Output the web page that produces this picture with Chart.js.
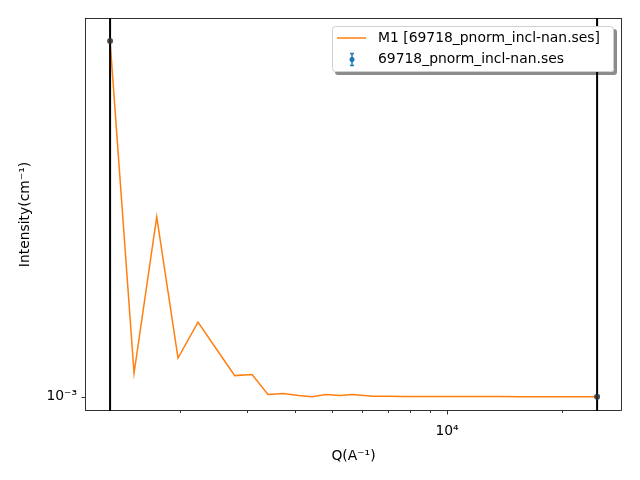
<!DOCTYPE html>
<html>
<head>
<meta charset="utf-8">
<script src="https://cdn.jsdelivr.net/npm/chart.js@4/dist/chart.umd.min.js"></script>
<style>
  html, body { margin: 0; padding: 0; background: #fff; }
  #wrap { width: 640px; height: 480px; }
</style>
</head>
<body>
<div id="wrap"><canvas id="sasChart" width="640" height="480"></canvas></div>
<script>
// Model curve M1, Q (1/A) vs intensity (1/cm)
const modelQ = [1312, 1516, 1738, 1976, 2229, 2490, 2781, 3087, 3399, 3721, 4087, 4432, 4823, 5247, 5640, 6403,
                7000, 7700, 8500, 9500, 10700, 12000, 13600, 15500, 17700, 20300, 24700];
const modelI = [1.797e-3, 1.040e-3, 1.345e-3, 1.066e-3, 1.131e-3, 1.082e-3, 1.0356e-3, 1.0374e-3, 1.0038e-3,
                1.0054e-3, 1.0021e-3, 1.0003e-3, 1.0040e-3, 1.0021e-3, 1.0040e-3, 1.0010e-3,
                1.0009e-3, 1.0008e-3, 1.0008e-3, 1.0007e-3, 1.0006e-3, 1.0005e-3, 1.0004e-3, 1.0003e-3,
                1.0002e-3, 1.0001e-3, 1.0000e-3];
// measured points that show (fit range ends)
const dataQ = [1312, 24700];
const dataI = [1.797e-3, 1.0000e-3];
// fit range limits (vertical lines)
const rangeQ = [1312, 24700];

const xTicks = [2000, 3000, 4000, 5000, 6000, 7000, 8000, 9000, 10000, 20000];
const xLabels = { 10000: '10⁴' };
const yTicks = [1e-3];
const yLabels = { 0.001: '10⁻³' };

const xMin = 1128, xMax = 28700;
const yMin = 0.977e-3, yMax = 1.866e-3;

const FONT = "'DejaVu Sans', sans-serif";

const tickPlugin = {
  id: 'mplTicks',
  afterDraw(chart) {
    const c = chart.ctx;
    const xs = chart.scales.x, ys = chart.scales.y;
    const a = chart.chartArea;
    c.save();
    c.strokeStyle = '#000';
    c.lineWidth = 0.8;
    xTicks.forEach(v => {
      const px = Math.round(xs.getPixelForValue(v)) + 0.5;
      const len = xLabels[v] ? 3.5 : 2;
      c.beginPath(); c.moveTo(px, a.bottom); c.lineTo(px, a.bottom + len); c.stroke();
    });
    yTicks.forEach(v => {
      const py = Math.round(ys.getPixelForValue(v)) + 0.5;
      c.beginPath(); c.moveTo(a.left, py); c.lineTo(a.left - 3.5, py); c.stroke();
    });
    // frame
    c.strokeRect(a.left + 0.5, a.top + 0.5, a.right - a.left - 1, a.bottom - a.top - 1);

    // legend
    const lx = 332, ly = 26, lw = 282, lh = 46;
    c.fillStyle = 'rgba(0,0,0,0.45)';
    roundRect(c, lx + 3, ly + 3, lw, lh, 3); c.fill();
    c.fillStyle = '#fff';
    roundRect(c, lx, ly, lw, lh, 3); c.fill();
    c.strokeStyle = '#d0d0d0'; c.lineWidth = 1;
    roundRect(c, lx + 0.5, ly + 0.5, lw - 1, lh - 1, 3); c.stroke();

    c.strokeStyle = '#ff7f0e'; c.lineWidth = 1.5;
    c.beginPath(); c.moveTo(337, 38); c.lineTo(366, 38); c.stroke();
    c.strokeStyle = '#1f77b4'; c.fillStyle = '#1f77b4'; c.lineWidth = 1.5;
    c.beginPath(); c.moveTo(352, 53); c.lineTo(352, 66); c.stroke();
    c.beginPath(); c.moveTo(350, 53.5); c.lineTo(354, 53.5); c.moveTo(350, 65.5); c.lineTo(354, 65.5); c.stroke();
    c.beginPath(); c.arc(352, 59.5, 2.5, 0, Math.PI * 2); c.fill();

    c.fillStyle = '#000';
    c.font = '13.9px ' + FONT;
    c.textBaseline = 'middle';
    c.fillText('M1 [69718_pnorm_incl-nan.ses]', 378, 38);
    c.fillText('69718_pnorm_incl-nan.ses', 378, 59);
    c.restore();
  }
};

function roundRect(c, x, y, w, h, r) {
  c.beginPath();
  c.moveTo(x + r, y);
  c.lineTo(x + w - r, y); c.quadraticCurveTo(x + w, y, x + w, y + r);
  c.lineTo(x + w, y + h - r); c.quadraticCurveTo(x + w, y + h, x + w - r, y + h);
  c.lineTo(x + r, y + h); c.quadraticCurveTo(x, y + h, x, y + h - r);
  c.lineTo(x, y + r); c.quadraticCurveTo(x, y, x + r, y);
  c.closePath();
}

const ctx = document.getElementById('sasChart').getContext('2d');
new Chart(ctx, {
  type: 'line',
  data: {
    datasets: [
      {
        label: 'range start',
        data: [{ x: rangeQ[0], y: yMin }, { x: rangeQ[0], y: yMax }],
        borderColor: '#000', borderWidth: 2, pointRadius: 0, order: 1
      },
      {
        label: 'range end',
        data: [{ x: rangeQ[1], y: yMin }, { x: rangeQ[1], y: yMax }],
        borderColor: '#000', borderWidth: 2, pointRadius: 0, order: 1
      },
      {
        label: 'M1 [69718_pnorm_incl-nan.ses]',
        data: modelQ.map((q, i) => ({ x: q, y: modelI[i] })),
        borderColor: '#ff7f0e', borderWidth: 1.5, pointRadius: 0, tension: 0, order: 2
      },
      {
        label: '69718_pnorm_incl-nan.ses',
        data: dataQ.map((q, i) => ({ x: q, y: dataI[i] })),
        showLine: false, pointRadius: 3, pointBorderWidth: 0,
        pointBackgroundColor: 'rgba(50,50,50,0.85)', order: 0
      }
    ]
  },
  options: {
    responsive: false,
    animation: false,
    events: [],
    layout: { padding: { top: 18, right: 18, left: 0, bottom: 0 } },
    plugins: { legend: { display: false }, tooltip: { enabled: false } },
    scales: {
      x: {
        type: 'logarithmic', min: xMin, max: xMax,
        afterBuildTicks: s => { s.ticks = xTicks.map(v => ({ value: v })); },
        afterFit: s => { s.height = 69; },
        grid: { display: false, drawTicks: false },
        border: { display: false },
        ticks: {
          autoSkip: false, maxRotation: 0, padding: 12,
          color: '#000', font: { family: FONT, size: 13.9 },
          callback: v => xLabels[v] || ''
        },
        title: {
          display: true, text: 'Q(A⁻¹)', color: '#000',
          font: { family: FONT, size: 13.9 }, padding: { top: 4, bottom: 15 }
        }
      },
      y: {
        type: 'logarithmic', min: yMin, max: yMax,
        afterBuildTicks: s => { s.ticks = yTicks.map(v => ({ value: v })); },
        afterFit: s => { s.width = 85; },
        grid: { display: false, drawTicks: false },
        border: { display: false },
        ticks: {
          autoSkip: false, padding: 8,
          color: '#000', font: { family: FONT, size: 13.9 },
          callback: v => yLabels[v] || ''
        },
        title: {
          display: true, text: 'Intensity(cm⁻¹)', color: '#000',
          font: { family: FONT, size: 13.9 }, padding: { bottom: 0, top: 17 }
        }
      }
    }
  },
  plugins: [tickPlugin]
});
</script>
</body>
</html>
